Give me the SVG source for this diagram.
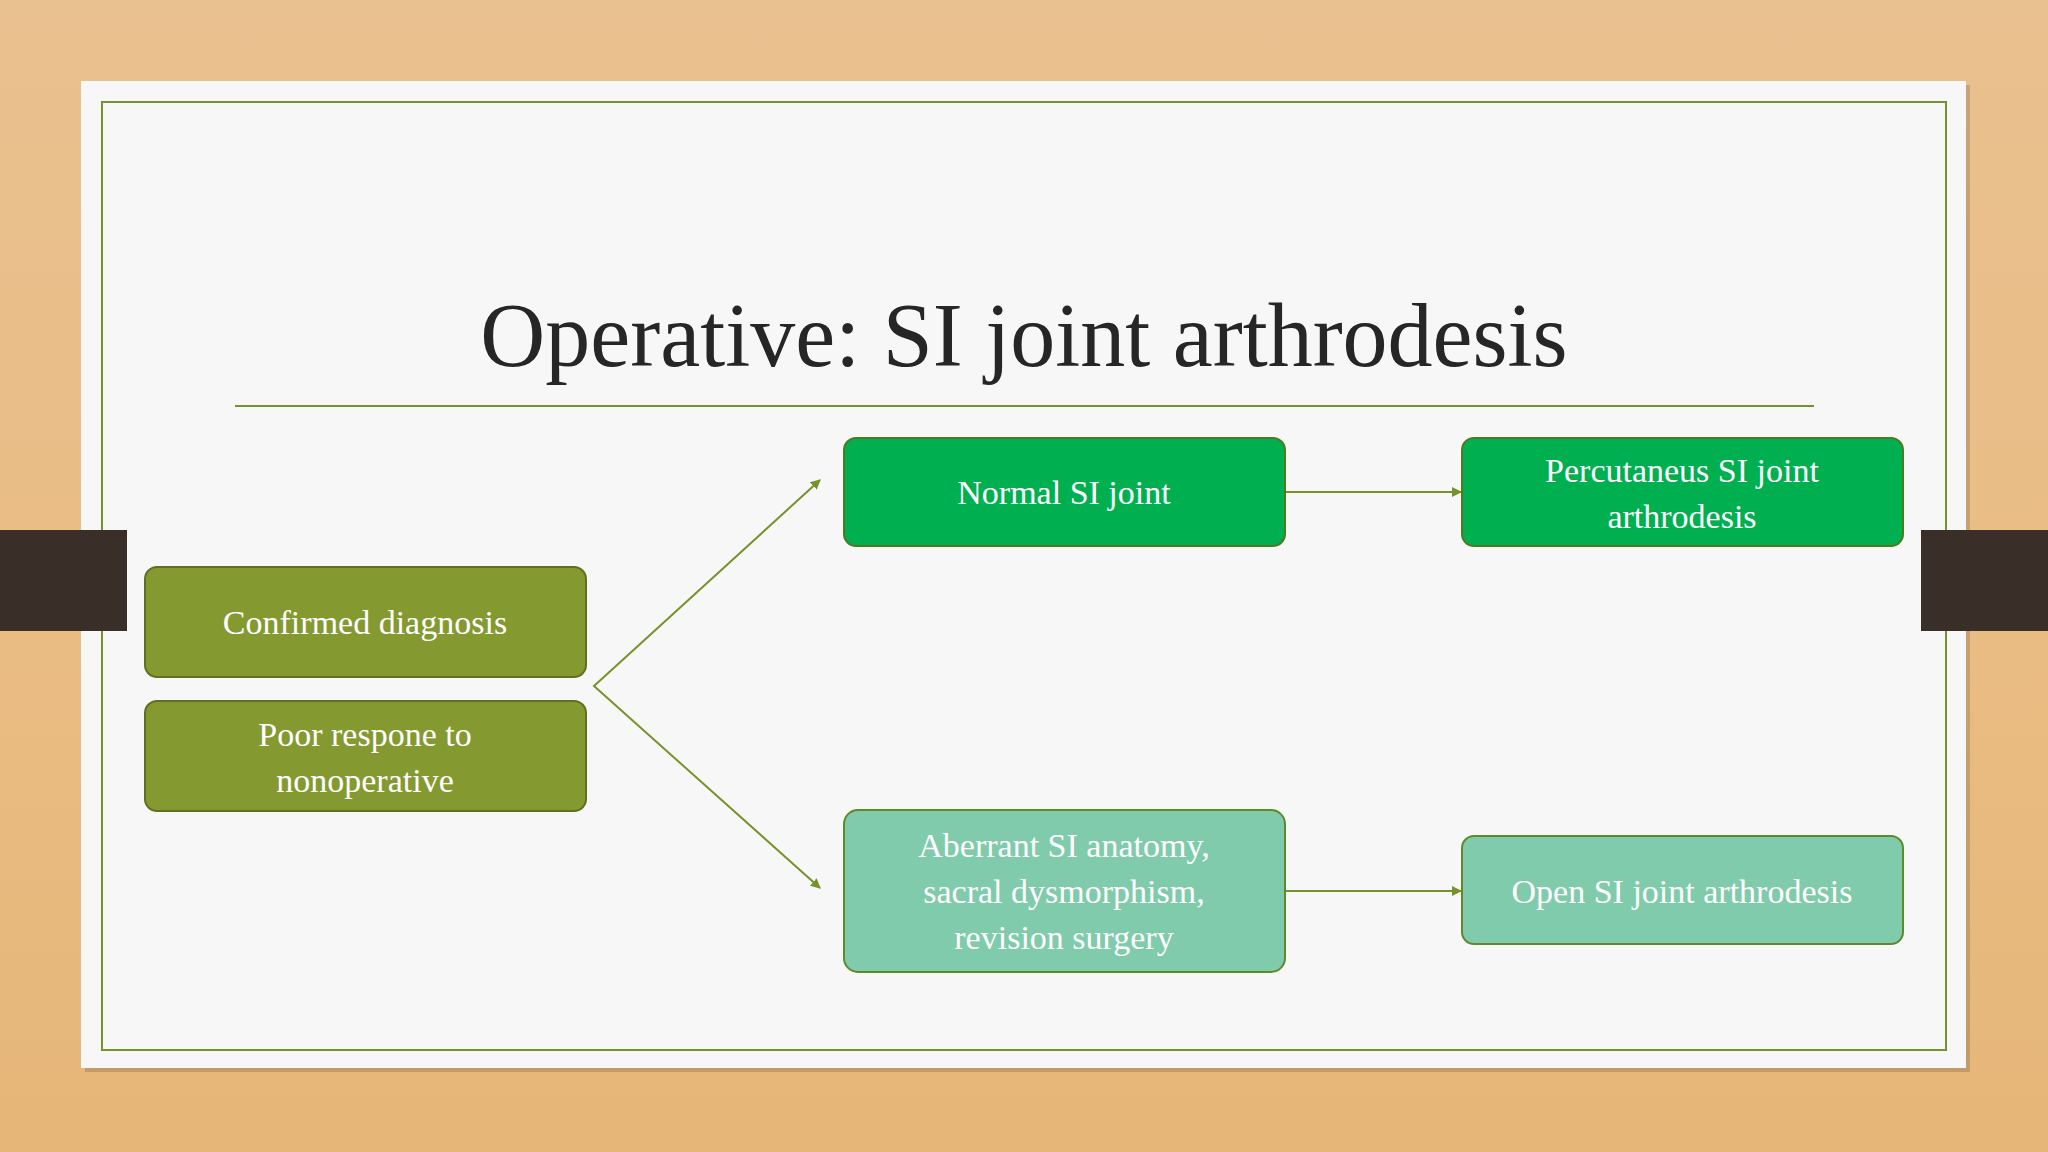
<svg xmlns="http://www.w3.org/2000/svg" width="2048" height="1152" viewBox="0 0 2048 1152">
<defs>
<linearGradient id="wood" x1="0" y1="0" x2="0" y2="1">
<stop offset="0" stop-color="#e9c08f"/><stop offset="0.5" stop-color="#eabd85"/><stop offset="1" stop-color="#e6b678"/>
</linearGradient>
<marker id="ah" viewBox="0 0 10 10" refX="9" refY="5" markerWidth="5" markerHeight="5" orient="auto-start-reverse"><path d="M0,0 L10,5 L0,10 z" fill="#76922a"/></marker>
</defs>
<style>
.t{font-family:"Liberation Serif",serif;font-size:34px;fill:#fff;text-anchor:middle}
.olive{fill:#84992f;stroke:#5f7020;stroke-width:2}
.green{fill:#00b050;stroke:#4f7a1e;stroke-width:2}
.teal{fill:#80cbab;stroke:#5f8a2a;stroke-width:2}
.c{stroke:#76922a;stroke-width:2;fill:none}
</style>
<rect width="2048" height="1152" fill="url(#wood)"/>
<rect x="85" y="85" width="1885" height="987" fill="#000" opacity="0.15"/>
<rect x="81" y="81" width="1885" height="987" fill="#f7f7f7"/>
<rect x="102" y="102" width="1844" height="948" fill="none" stroke="#76922a" stroke-width="2"/>
<rect x="0" y="530" width="127" height="101" fill="#3a2e28"/>
<rect x="1921" y="530" width="127" height="101" fill="#3a2e28"/>
<text x="1024" y="366" font-family="Liberation Serif,serif" font-size="90" fill="#262626" text-anchor="middle">Operative: SI joint arthrodesis</text>
<line x1="235" y1="406" x2="1814" y2="406" stroke="#76922a" stroke-width="2"/>
<g id="connectors">
<path class="c" d="M820,480 L594,686 L820,888" marker-start="url(#ah)" marker-end="url(#ah)"/>
<line class="c" x1="1286" y1="492" x2="1461" y2="492" marker-end="url(#ah)"/>
<line class="c" x1="1286" y1="891" x2="1461" y2="891" marker-end="url(#ah)"/>
</g>
<g id="confirmed"><rect class="olive" x="145" y="567" width="441" height="110" rx="12"/><text class="t" x="365" y="634">Confirmed diagnosis</text></g>
<g id="poor"><rect class="olive" x="145" y="701" width="441" height="110" rx="12"/><text class="t" x="365" y="746">Poor respone to</text><text class="t" x="365" y="792">nonoperative</text></g>
<g id="normal"><rect class="green" x="844" y="438" width="441" height="108" rx="12"/><text class="t" x="1064" y="504">Normal SI joint</text></g>
<g id="percutaneous"><rect class="green" x="1462" y="438" width="441" height="108" rx="12"/><text class="t" x="1682" y="482">Percutaneus SI joint</text><text class="t" x="1682" y="528">arthrodesis</text></g>
<g id="aberrant"><rect class="teal" x="844" y="810" width="441" height="162" rx="14"/><text class="t" x="1064" y="857">Aberrant SI anatomy,</text><text class="t" x="1064" y="903">sacral dysmorphism,</text><text class="t" x="1064" y="949">revision surgery</text></g>
<g id="open"><rect class="teal" x="1462" y="836" width="441" height="108" rx="12"/><text class="t" x="1682" y="903">Open SI joint arthrodesis</text></g>
</svg>
